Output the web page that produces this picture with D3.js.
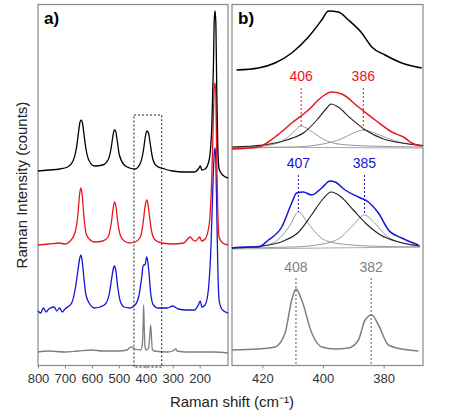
<!DOCTYPE html>
<html><head><meta charset="utf-8">
<script src="https://cdn.jsdelivr.net/npm/d3@7"></script>
<style>body{margin:0;background:#fff}text{font-family:Arial,"Liberation Sans",sans-serif}</style>
</head><body><div id="chart"></div>
<script>
// panel a spectra: [shift cm-1, intensity (offset, a.u.)]
let aBlack = [[800,194],[760,195],[720,196],[690,198],[670,204],[658,216],[650,232],[645,242],[640,245],[635,242],[630,232],[622,216],[610,204],[590,199],[560,200],[540,205],[528,218],[522,229],[517,235],[512,234],[507,226],[498,210],[480,200],[460,197],[440,196],[420,202],[408,216],[402,228],[396,234],[390,232],[384,222],[375,207],[360,199],[330,196],[300,194],[260,193],[220,193],[205,196],[198,199],[192,195],[180,196],[165,205],[155,240],[149,300],[146,345],[143,354],[140,342],[137,280],[133,220],[128,196],[115,190],[95,187]];
let aRed = [[800,120],[760,121],[720,122],[700,121],[680,124],[662,133],[652,150],[645,172],[641,177],[636,170],[630,150],[622,132],[610,126],[590,123],[560,124],[540,128],[528,142],[521,157],[516,163],[511,159],[505,145],[495,130],[480,124],[460,122],[440,123],[420,128],[410,142],[403,158],[397,165],[392,161],[386,148],[378,133],[365,125],[340,122],[300,121],[260,122],[235,128],[225,125],[215,124],[200,128],[193,124],[180,126],[165,140],[155,190],[149,250],[146,278],[143,282],[140,268],[137,210],[133,155],[128,128],[115,122],[95,120]];
let aBlue = [[800,54],[790,52],[780,57],[770,53],[760,56],[740,58],[730,54],[720,57],[710,53],[700,56],[690,58],[675,62],[662,76],[652,94],[645,107],[641,110],[636,104],[630,88],[622,70],[610,62],[590,57],[570,58],[550,61],[535,72],[527,86],[520,97],[516,99],[511,94],[505,80],[495,64],[480,58],[460,57],[440,60],[425,70],[415,88],[409,100],[403,100],[397,108],[393,104],[388,92],[382,72],[372,60],[355,57],[320,57],[300,59],[280,56],[250,55],[220,55],[205,60],[198,64],[192,58],[180,60],[168,75],[158,120],[151,180],[146,212],[143,217],[140,202],[137,160],[133,100],[128,65],[122,58],[115,55],[95,52]];
let aGray = [[800,13],[760,14],[700,13],[650,14],[600,15],[560,14],[500,14],[470,15],[455,18],[440,16],[420,15],[413,20],[410,40],[408,60],[406,40],[403,18],[398,15],[390,17],[385,30],[382,40],[379,28],[376,16],[370,14],[320,13],[300,14],[288,16],[284,14],[250,13],[200,13],[150,13],[95,12]];
let boxA = [444, 341, 0, 250]; // x1, x2, y1, y2

// panel b spectra
let bBlack = [[428.5,295],[421.3,297],[415.8,302],[410.3,312],[404.8,328],[400.4,345],[398.2,354],[394.9,353],[391.6,345],[387.2,332],[383.9,318],[379.5,310],[374,302],[367.4,297]];
let bRed = [[430.1,216],[421.3,218],[415.8,228],[410.3,242],[404.8,255],[400.4,268],[397.1,273],[393.8,271],[388.3,258],[382.8,245],[377.3,233],[372.9,227],[370.7,222],[367.4,219]];
let bRedMain = [[430,218],[420,220],[412,225],[406,233],[402,245],[399,256],[397.3,261],[395,258],[391,247],[386,235],[380,226],[374,222],[367,219.5]];
let bRedC1 = [[430,217.5],[420,219],[414,223],[410,232],[407.2,239],[404,234],[400,226],[395,221],[385,219],[367,218]];
let bRedC2 = [[430,217],[410,218],[400,221],[394,226],[390,232],[386.7,235],[383,232],[378,226],[372,221],[367,219.5]];
let bRedBase = [[430,218],[367,217]];
let bBlue = [[430.1,117],[425.7,118],[421.3,118],[418,125],[413.6,138],[410.3,162],[408.7,172],[406.5,173],[403.7,170],[400.4,177],[397.7,184],[396,183],[392.7,175],[388.3,168],[385,163],[381.7,152],[378.4,135],[374,127],[368.5,120]];
let bBlueMain = [[430,117],[420,119],[413,124],[408,133],[404,149],[400,166],[397.3,173],[394,168],[390,155],[386,142],[381,130],[375,123],[368,119]];
let bBlueC1 = [[430,117],[420,119],[415,125],[411,139],[408.1,153],[405,142],[401,128],[396,122],[385,119],[368,118]];
let bBlueC2 = [[430,117],[410,118],[400,121],[394,128],[390,140],[386.3,150],[383,142],[379,129],[374,122],[368,119]];
let bBlueBase = [[430,116],[368,118]];
let bGray = [[430.1,15],[421.3,16],[415.8,18],[412.5,32],[410.3,65],[408.9,76],[407,65],[403.7,32],[400.4,18],[396,16],[391.6,17],[388.3,25],[386.1,45],[383.9,50],[381.7,40],[378.4,20],[374,16],[368.5,14]];

// peak markers: label, x, label y, line top, line bottom
let markRed = [["406",407.2,284,277,239],["386",386.7,284,277,235]];
let markBlue = [["407",408.1,197,190,153],["385",386.3,197,190,150]];
let markGray = [["408",408.9,93,87,0],["382",384.1,93,87,0]];

let ticksA = [800,700,600,500,400,300,200];
let ticksB = [420,400,380];

let red = "#e8161d", blue = "#1515d6", gray = "#7f7f7f";

let svg = d3.select("#chart").append("svg").attr("width",474).attr("height",417);

let yS = d3.scaleLinear().domain([0,360]).range([365,5]);
let xA = d3.scaleLinear().domain([800,95]).range([38,228]);
let xB = d3.scaleLinear().domain([430,367]).range([232,423]);

function line(x){ return d3.line().x(d=>x(d[0])).y(d=>yS(d[1])).curve(d3.curveMonotoneX); }

function frame(x, ticks, label, lx){
    let g = svg.append("g");
    g.append("rect").attr("x",x.range()[0]).attr("y",4.5).attr("width",x.range()[1]-x.range()[0]).attr("height",361)
        .attr("fill","none").attr("stroke","#888").attr("stroke-width",1.2);
    let ax = svg.append("g").attr("transform","translate(0,365.5)")
        .call(d3.axisBottom(x).tickValues(ticks).tickSize(3).tickSizeOuter(0));
    ax.select(".domain").remove();
    ax.selectAll("line").attr("stroke","#888");
    ax.selectAll("text").attr("font-size",13).attr("fill","#333").attr("dy","0.85em");
    svg.append("text").attr("x",lx).attr("y",24).attr("font-size",17).attr("font-weight","bold").text(label);
}
frame(xA, ticksA, "a)", 44);
frame(xB, ticksB, "b)", 238);

function draw(data, x, color, w){
    svg.append("path").datum(data).attr("d",line(x)).attr("fill","none").attr("stroke",color).attr("stroke-width",w);
}
draw(aGray, xA, gray, 1.3);
draw(aBlue, xA, blue, 1.3);
draw(aRed, xA, red, 1.3);
draw(aBlack, xA, "#000", 1.3);

svg.append("rect").attr("x",xA(boxA[0])).attr("y",yS(boxA[3])).attr("width",xA(boxA[1])-xA(boxA[0]))
    .attr("height",yS(boxA[2])-yS(boxA[3])+2).attr("fill","none").attr("stroke","#222").attr("stroke-dasharray","2,2");

[[bRedBase,bRedC1,bRedC2,bRedMain,bRed,red],[bBlueBase,bBlueC1,bBlueC2,bBlueMain,bBlue,blue]].forEach(s=>{
    draw(s[0], xB, "#aaa", 1);
    draw(s[1], xB, "#999", 1);
    draw(s[2], xB, "#999", 1);
    draw(s[3], xB, "#222", 1.1);
    draw(s[4], xB, s[5], 1.5);
});
draw(bBlack, xB, "#000", 1.5);
draw(bGray, xB, gray, 1.5);

[[markRed,red,red],[markBlue,blue,blue],[markGray,"#555",gray]].forEach(m=>{
    m[0].forEach(d=>{
        svg.append("line").attr("x1",xB(d[1])).attr("x2",xB(d[1])).attr("y1",yS(d[3])).attr("y2",yS(d[4]))
            .attr("stroke",m[1]).attr("stroke-dasharray","2,2").attr("stroke-width",1);
        svg.append("text").attr("x",xB(d[1])).attr("y",yS(d[2])).attr("text-anchor","middle").attr("font-size",14)
            .attr("fill",m[2]).text(d[0]);
    });
});

svg.append("text").attr("x",232).attr("y",407).attr("text-anchor","middle").attr("font-size",15).attr("fill","#222")
    .text("Raman shift (cm\u207B\u00B9)");
svg.append("text").attr("transform","translate(27,185) rotate(-90)").attr("text-anchor","middle").attr("font-size",15).attr("fill","#222")
    .text("Raman Intensity (counts)");
</script></body></html>
